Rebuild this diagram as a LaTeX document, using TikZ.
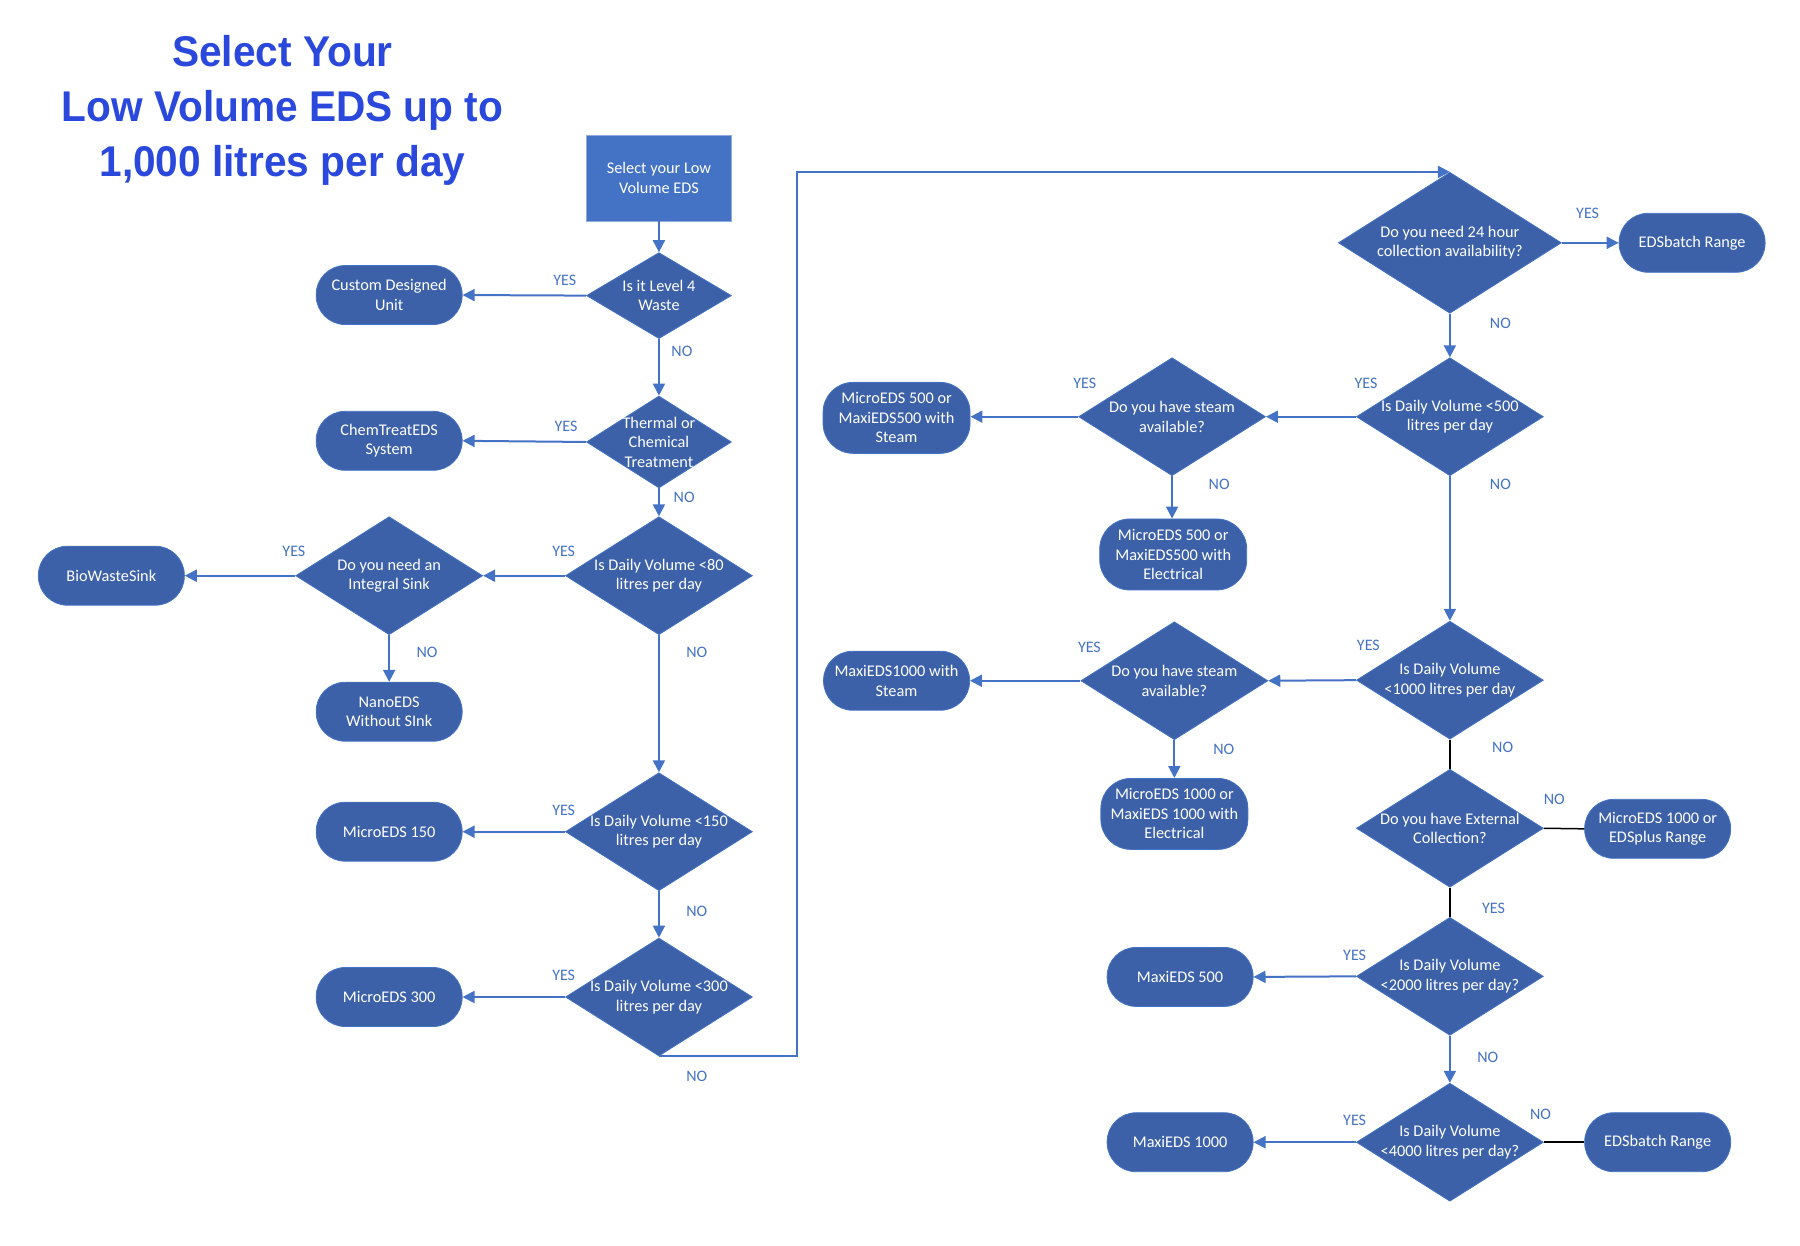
\documentclass[tikz,border=0pt]{standalone}
\usepackage{fontspec}
\setmainfont{Carlito}
\newfontfamily\titlefont{Liberation Sans}[FakeStretch=0.945]
\usetikzlibrary{shapes.geometric,arrows.meta}
\definecolor{shapefill}{RGB}{61,97,169}
\definecolor{startfill}{RGB}{68,114,196}
\definecolor{lineblue}{RGB}{68,114,196}
\definecolor{titleblue}{RGB}{42,72,220}
\tikzset{
  dianode/.style={diamond, fill=shapefill, draw=lineblue, line width=0.8pt, inner sep=0pt},
  txt/.style={text=white, font=\fontsize{16.3}{19.5}\selectfont, align=center, inner sep=0pt},
  term/.style={rectangle, fill=shapefill, draw=lineblue, line width=0.8pt, minimum width=146pt, minimum height=59pt, rounded corners=29pt, text=white, font=\fontsize{16.3}{19.5}\selectfont, align=center, inner sep=0pt},
  termtall/.style={term, minimum width=147pt, minimum height=71pt, rounded corners=30pt},
  startbox/.style={rectangle, fill=startfill, draw=lineblue!60!white, line width=0.8pt, minimum width=145pt, minimum height=86pt, text=white, font=\fontsize{16.3}{19.5}\selectfont, align=center, inner sep=0pt},
  arr/.style={draw=lineblue, line width=2pt, -{Triangle[length=12pt,width=12pt]}},
  plain/.style={draw=black, line width=1.5pt},
  lab/.style={text=lineblue, font=\fontsize{16}{18}\selectfont, inner sep=0pt}
}
\newcommand{\dia}[6]{%
  \node[dianode, minimum width=#4, minimum height=#5] (#1) at (#2,#3) {};
  \node[txt] (#1t) at (#1) {#6};
}
\begin{document}
\begin{tikzpicture}[x=1.148pt, y=-1.148pt]
\useasboundingbox (0,0) rectangle (1568,1085);

% title
\node[text=titleblue, font=\titlefont\bfseries\fontsize{43}{55}\selectfont, align=center, inner sep=0pt] (title) at (246,96) {Select Your\\Low Volume EDS up to\\1,000 litres per day};

% left column
\node[startbox] (start) at (574,155) {Select your Low\\Volume EDS};
\dia{d1}{574}{257.5}{145pt}{86pt}{Is it Level 4\\Waste}
\node[term] (t1) at (339,257) {Custom Designed\\Unit};
\dia{d2}{574}{385}{145pt}{92pt}{Thermal or\\Chemical\\Treatment}
\node[term] (t2) at (339,384) {ChemTreatEDS\\System};
\dia{d3}{574}{501.5}{187pt}{118pt}{Is Daily Volume <80\\litres per day}
\dia{d4}{339}{501.5}{187pt}{118pt}{Do you need an\\Integral Sink}
\node[term] (bio) at (97,501.5) {BioWasteSink};
\node[term] (nano) at (339,620) {NanoEDS\\Without SInk};
\dia{d5}{574}{724.5}{187pt}{118pt}{Is Daily Volume <150\\litres per day}
\node[term] (m150) at (339,724.5) {MicroEDS 150};
\dia{d6}{574}{868.5}{187pt}{118pt}{Is Daily Volume <300\\litres per day}
\node[term] (m300) at (339,868.5) {MicroEDS 300};

% right column
\dia{d7}{1263}{211.5}{223pt}{141pt}{Do you need 24 hour\\collection availability?}
\node[term] (eb1) at (1474,211.5) {EDSbatch Range};
\dia{d8}{1263}{363}{187pt}{118pt}{Is Daily Volume <500\\litres per day}
\dia{d9}{1021}{363}{187pt}{118pt}{Do you have steam\\available?}
\node[termtall] (s500) at (781,364) {MicroEDS 500 or\\MaxiEDS500 with\\Steam};
\node[termtall] (e500) at (1022,483) {MicroEDS 500 or\\MaxiEDS500 with\\Electrical};
\dia{d10}{1263}{592.5}{187pt}{118pt}{Is Daily Volume\\<1000 litres per day}
\dia{d11}{1023}{593}{187pt}{118pt}{Do you have steam\\available?}
\node[term] (s1000) at (781,593) {MaxiEDS1000 with\\Steam};
\node[termtall] (e1000) at (1023,709) {MicroEDS 1000 or\\MaxiEDS 1000 with\\Electrical};
\dia{d12}{1263}{721.5}{187pt}{118pt}{Do you have External\\Collection?}
\node[term] (ext) at (1444,722) {MicroEDS 1000 or\\EDSplus Range};
\dia{d13}{1263}{850.5}{187pt}{118pt}{Is Daily Volume\\<2000 litres per day?}
\node[term] (mx500) at (1028,851) {MaxiEDS 500};
\dia{d14}{1263}{995}{187pt}{118pt}{Is Daily Volume\\<4000 litres per day?}
\node[term] (mx1000) at (1028,995) {MaxiEDS 1000};
\node[term] (eb2) at (1444,995) {EDSbatch Range};

% connectors left
\draw[arr] (start.south) -- (d1.north);
\draw[arr] (d1.west) -- (t1.east);
\draw[arr] (d1.south) -- (d2.north);
\draw[arr] (d2.west) -- (t2.east);
\draw[arr] (d2.south) -- (d3.north);
\draw[arr] (d3.west) -- (d4.east);
\draw[arr] (d4.west) -- (bio.east);
\draw[arr] (d4.south) -- (nano.north);
\draw[arr] (d3.south) -- (d5.north);
\draw[arr] (d5.west) -- (m150.east);
\draw[arr] (d5.south) -- (d6.north);
\draw[arr] (d6.west) -- (m300.east);
\coordinate (cx) at (694,0);
\draw[arr] (d6.south) -- (d6.south -| cx) -- (cx |- d7.north) -- (d7.north);

% connectors right
\draw[arr] (d7.east) -- (eb1.west);
\draw[arr] (d7.south) -- (d8.north);
\draw[arr] (d8.west) -- (d9.east);
\draw[arr] (d9.west) -- (s500.east |- d9.west);
\draw[arr] (d9.south) -- (d9.south |- e500.north);
\draw[arr] (d8.south) -- (d10.north);
\draw[arr] (d10.west) -- (d11.east);
\draw[arr] (d11.west) -- (s1000.east);
\draw[arr] (d11.south) -- (e1000.north);
\draw[plain] (d10.south) -- (d12.north);
\draw[plain] (d12.east) -- (ext.west);
\draw[plain] (d12.south) -- (d13.north);
\draw[arr] (d13.west) -- (mx500.east);
\draw[arr] (d13.south) -- (d14.north);
\draw[arr] (d14.west) -- (mx1000.east);
\draw[plain] (d14.east) -- (eb2.west);

% labels
\node[lab] (l1) at (492,244) {YES};
\node[lab] (l2) at (594,306) {NO};
\node[lab] (l3) at (493,371) {YES};
\node[lab] (l4) at (596,433) {NO};
\node[lab] (l5) at (256,480) {YES};
\node[lab] (l6) at (491,480) {YES};
\node[lab] (l7) at (372,568) {NO};
\node[lab] (l8) at (607,568) {NO};
\node[lab] (l9) at (491,706) {YES};
\node[lab] (l10) at (607,794) {NO};
\node[lab] (l11) at (491,850) {YES};
\node[lab] (l12) at (607,938) {NO};
\node[lab] (l13) at (1383,186) {YES};
\node[lab] (l14) at (1307,282) {NO};
\node[lab] (l15) at (945,334) {YES};
\node[lab] (l16) at (1190,334) {YES};
\node[lab] (l17) at (1062,422) {NO};
\node[lab] (l18) at (1307,422) {NO};
\node[lab] (l19) at (949,564) {YES};
\node[lab] (l20) at (1192,562) {YES};
\node[lab] (l21) at (1066,653) {NO};
\node[lab] (l22) at (1309,651) {NO};
\node[lab] (l23) at (1354,696) {NO};
\node[lab] (l24) at (1301,791) {YES};
\node[lab] (l25) at (1180,832) {YES};
\node[lab] (l26) at (1296,921) {NO};
\node[lab] (l27) at (1180,976) {YES};
\node[lab] (l28) at (1342,971) {NO};
\end{tikzpicture}
\end{document}
